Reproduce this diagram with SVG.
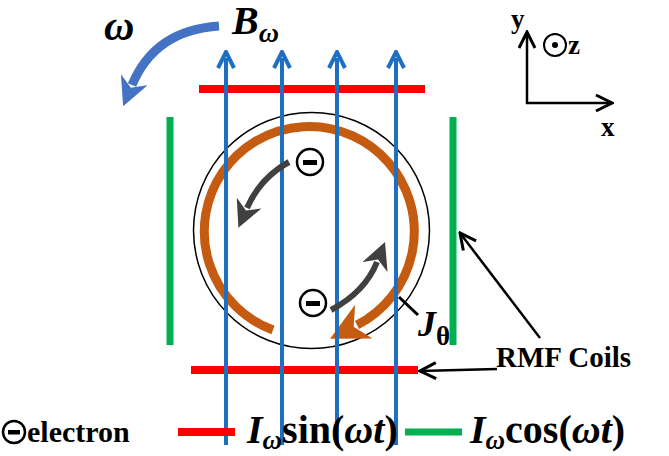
<svg xmlns="http://www.w3.org/2000/svg" width="669" height="456" viewBox="0 0 669 456">
<style>
.t{font-family:"Liberation Serif",serif;font-weight:bold;fill:#000}
.b{stroke:#1f6fc0;stroke-width:4;fill:none}
.r{stroke:#f00;stroke-width:8}
.g{stroke:#00b050;stroke-width:7}
.k{stroke:#000;stroke-width:2.5;fill:none}
</style>
<defs>
<marker id="ba" viewBox="0 0 10 10" refX="6" refY="5" markerWidth="5" markerHeight="5" orient="auto"><path d="M1,1 L9,5 L1,9" fill="none" stroke="#1f6fc0" stroke-width="2"/></marker>
<marker id="ka" viewBox="0 0 10 10" refX="9" refY="5" markerWidth="8" markerHeight="8" orient="auto"><path d="M1,1 L9,5 L1,9" fill="none" stroke="#000" stroke-width="1.5"/></marker>
<marker id="ga" viewBox="0 0 10 10" refX="2" refY="5" markerWidth="4.5" markerHeight="4.5" orient="auto"><path d="M0,0 L10,5 L0,10 L3,5z" fill="#404040"/></marker>
<marker id="oa" viewBox="0 0 10 10" refX="2" refY="5" markerWidth="4.2" markerHeight="4.2" orient="auto"><path d="M0,0 L10,5 L0,10 L3,5z" fill="#c55a11"/></marker>
<marker id="wa" viewBox="0 0 10 10" refX="2" refY="5" markerWidth="3.2" markerHeight="3.2" orient="auto"><path d="M0,0 L10,5 L0,10 L3,5z" fill="#4472c4"/></marker>
</defs>
<g id="coils">
<line class="r" x1="199" y1="89" x2="425" y2="89"/>
<line class="r" x1="191" y1="370" x2="418" y2="370"/>
<line class="g" x1="170" y1="117" x2="170" y2="345"/>
<line class="g" x1="453" y1="117" x2="453" y2="345"/>
</g>
<g id="plasma">
<circle cx="311.5" cy="230.5" r="118" fill="none" stroke="#000" stroke-width="1.5"/>
<path d="M273,330 A105,105 0 1 1 357,325" fill="none" stroke="#c55a11" stroke-width="9" marker-end="url(#oa)"/>
</g>
<g id="connectors">
<line class="b" x1="226" y1="445" x2="226" y2="58" marker-end="url(#ba)"/>
<line class="b" x1="282" y1="445" x2="282" y2="58" marker-end="url(#ba)"/>
<line class="b" x1="337" y1="445" x2="337" y2="58" marker-end="url(#ba)"/>
<line class="b" x1="396" y1="445" x2="396" y2="58" marker-end="url(#ba)"/>
<path d="M289,162 Q260,178 247,208" fill="none" stroke="#404040" stroke-width="6" marker-end="url(#ga)"/>
<path d="M331,310 Q365,292 377,262" fill="none" stroke="#404040" stroke-width="6" marker-end="url(#ga)"/>
<path d="M219,26 Q155,30 132,85" fill="none" stroke="#4472c4" stroke-width="9" marker-end="url(#wa)"/>
<line x1="399" y1="297" x2="418" y2="315" stroke="#000" stroke-width="3"/>
<line class="k" x1="540" y1="338" x2="460" y2="233" marker-end="url(#ka)"/>
<line class="k" x1="497" y1="369" x2="420" y2="371" marker-end="url(#ka)"/>
</g>
<g id="electrons">
<circle cx="310" cy="162" r="13" fill="#fff" stroke="#000" stroke-width="2.5"/><rect x="303" y="160" width="14" height="5"/>
<circle cx="313" cy="303" r="13" fill="#fff" stroke="#000" stroke-width="2.5"/><rect x="306" y="301" width="14" height="5"/>
</g>
<g id="axes">
<line class="k" x1="527" y1="104" x2="527" y2="32" marker-end="url(#ka)"/>
<line class="k" x1="526" y1="103" x2="612" y2="103" marker-end="url(#ka)"/>
<circle cx="555" cy="45" r="11" fill="none" stroke="#000" stroke-width="2"/><circle cx="555" cy="45" r="3"/>
<text class="t" x="511" y="28" font-size="27">y</text>
<text class="t" x="568" y="54" font-size="27">z</text>
<text class="t" x="601" y="136" font-size="27">x</text>
</g>
<g id="labels">
<text class="t" x="104" y="40" font-size="42" font-style="italic">ω</text>
<text class="t" x="232" y="34" font-size="40" font-style="italic">B<tspan font-size="28" dy="8">ω</tspan></text>
<text class="t" x="418" y="336" font-size="36" font-style="italic">J<tspan font-size="27" font-style="normal" dy="9">θ</tspan></text>
<text class="t" x="496" y="367" font-size="29">RMF Coils</text>
</g>
<g id="legend">
<circle cx="14" cy="432" r="11" fill="#fff" stroke="#000" stroke-width="2.5"/><rect x="8" y="430" width="12" height="4.5"/>
<text class="t" x="27" y="442" font-size="30">electron</text>
<line class="r" x1="178" y1="432" x2="235" y2="432"/>
<text class="t" x="247" y="443" font-size="40"><tspan font-style="italic">I</tspan><tspan font-style="italic" font-size="27" dy="6">ω</tspan><tspan dy="-6">sin(</tspan><tspan font-style="italic">ωt</tspan>)</text>
<line class="g" x1="405" y1="432" x2="462" y2="432"/>
<text class="t" x="470" y="443" font-size="40"><tspan font-style="italic">I</tspan><tspan font-style="italic" font-size="27" dy="6">ω</tspan><tspan dy="-6">cos(</tspan><tspan font-style="italic">ωt</tspan>)</text>
</g>
</svg>
